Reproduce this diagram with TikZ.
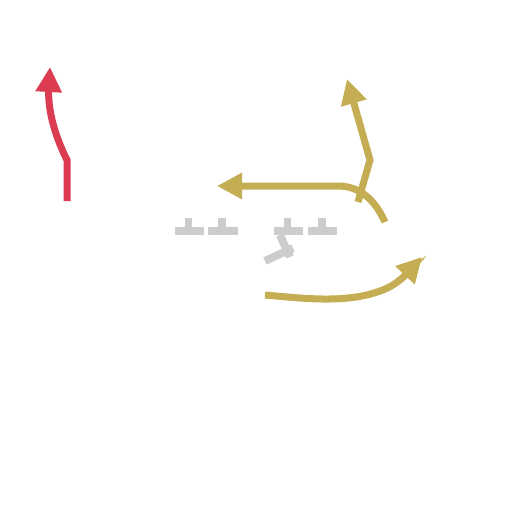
\documentclass[tikz,border=0pt]{standalone}
\usetikzlibrary{arrows.meta}
\definecolor{gold}{HTML}{C4AD52}
\definecolor{redp}{HTML}{DC3C52}
\definecolor{grayb}{HTML}{CCCCCC}
\tikzset{
  route/.style={line width=7pt, -{Triangle[length=25pt,width=25pt]}},
  goldroute/.style={route, draw=gold},
  redroute/.style={route, draw=redp},
  blockbar/.style={fill=grayb, draw=none},
  blockline/.style={draw=grayb, line width=8pt}
}
\begin{document}
\begin{tikzpicture}[x=1pt,y=-1pt]
\useasboundingbox (0,0) rectangle (512,512);
% coordinates
\coordinate (r0) at (67,201);
\coordinate (r1) at (67,160);
\coordinate (r2) at (50,67);
\coordinate (a0) at (385,222);
\coordinate (a1) at (338,186);
\coordinate (a2) at (217,186);
\coordinate (b0) at (358,202);
\coordinate (b1) at (370,160);
\coordinate (b2) at (347,79);
\coordinate (c0) at (265,295);
\coordinate (c1) at (380,291);
\coordinate (c2) at (422,257);
% blocks
\fill[blockbar] (175,227) rectangle (204,235);
\fill[blockbar] (185,218) rectangle (192,227);
\fill[blockbar] (208,227) rectangle (238,235);
\fill[blockbar] (218,218) rectangle (226,227);
\fill[blockbar] (274,227) rectangle (303,235);
\fill[blockbar] (284,218) rectangle (291,227);
\fill[blockbar] (308,227) rectangle (337,235);
\fill[blockbar] (318,218) rectangle (326,227);
\coordinate (s0) at (280,235);
\coordinate (s1) at (290,257);
\coordinate (t0) at (265,261);
\coordinate (t1) at (293,248);
\draw[blockline] (s0) -- (s1);
\draw[blockline] (t0) -- (t1);
% routes
\draw[redroute] (r0) -- (r1) .. controls (52,130) and (48,105) .. (r2);
\draw[goldroute] (a0) .. controls (375,200) and (360,186) .. (a1) -- (a2);
\draw[goldroute] (b0) -- (b1) -- (b2);
\draw[goldroute] (c0) .. controls (300,298) and (345,304) .. (c1) .. controls (398,285) and (408,272) .. (c2);
\end{tikzpicture}
\end{document}
